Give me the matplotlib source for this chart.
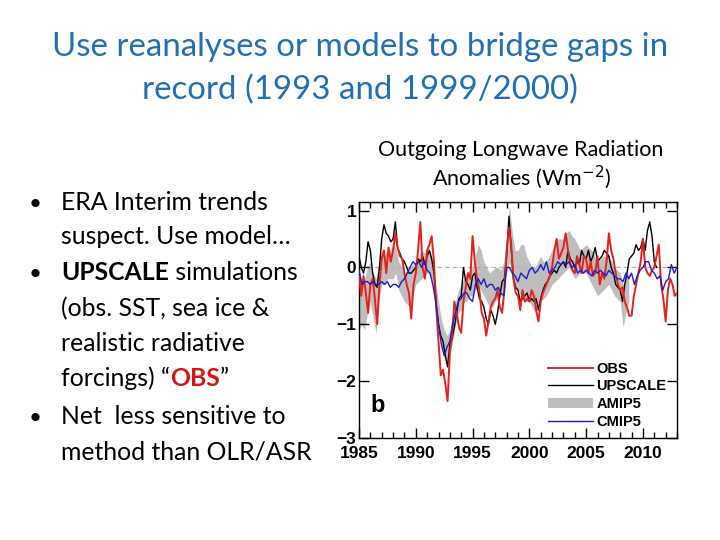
import numpy as np
import matplotlib
matplotlib.use('Agg')
import matplotlib.pyplot as plt
from matplotlib.ticker import MultipleLocator

# ---- data (OLR anomalies, W m-2) ----
obs_start, obs_step = 1985.0, 0.2
obs = [
    -0.15, -0.5, -0.15, -0.45, -0.8,    # 1985
    -0.3, -0.2, -0.55, -1.0, -0.3,      # 1986
    0.15, 0.3, -0.1, 0.35, 0.1,         # 1987
    0.3, 0.6, 0.35, 0.2, 0.15,          # 1988
    -0.1, -0.3, -0.45, -0.9, -0.3,      # 1989
    -0.1, 0.3, 0.8, 0.0, -0.2,          # 1990
    0.3, 0.4, 0.55, 0.1, -0.7,          # 1991
    -1.3, -1.9, -1.8, -2.05, -2.35,     # 1992
    -1.5, -1.2, -0.6, -0.8, -1.05,      # 1993
    -1.15, -0.6, -0.35, -0.1, -0.2,     # 1994
    0.55, 0.1, -0.2, -0.4, -0.8,        # 1995
    -0.9, -1.2, -0.95, -0.7, -0.6,      # 1996
    -0.55, -0.4, -0.7, -0.8, -0.4,      # 1997
    0.3, 0.7, 0.4, -0.2, -0.45,         # 1998
    -0.5, -0.75, -0.4, -0.6, -0.55,     # 1999
    -0.6, -0.4, -0.5, -0.75, -0.95,     # 2000
    -0.6, -0.45, -0.35, -0.25, -0.15,   # 2001
    0.0, 0.3, 0.5, 0.15, 0.25,          # 2002
    0.35, 0.6, 0.3, 0.05, -0.05,        # 2003
    -0.1, 0.2, 0.05, -0.1, 0.2,         # 2004
    0.15, -0.1, 0.1, -0.15, -0.1,       # 2005
    0.2, -0.3, -0.1, -0.2, 0.1,         # 2006
    0.6, 0.3, 0.15, -0.1, -0.3,         # 2007
    -0.4, -0.35, -0.6, -0.7, -0.85,     # 2008
    -0.85, -0.5, -0.3, -0.1, 0.1,       # 2009
    0.5, 0.0, -0.1, -0.15, -0.05,       # 2010
    0.0, 0.2, 0.4, -0.3, -0.55,         # 2011
    -0.95, -0.4, -0.2, -0.3, -0.5,      # 2012
    -0.45,                              # 2013
]

upscale_start, upscale_step = 1985.0, 0.2
upscale = [
    0.2, 0.0, -0.1, 0.1, 0.45,          # 1985
    0.3, -0.1, -0.3, -0.35, 0.0,        # 1986
    0.5, 0.75, 0.6, 0.55, 0.45,         # 1987
    0.5, 0.8, 0.35, 0.25, 0.15,         # 1988
    0.1, 0.0, -0.1, -0.1, -0.05,        # 1989
    0.0, 0.15, 0.1, 0.2, 0.05,          # 1990
    0.2, 0.3, 0.15, -0.1, -0.65,        # 1991
    -1.0, -1.2, -1.3, -1.55, -1.75,     # 1992
    -1.35, -1.25, -1.05, -0.8, -0.55,   # 1993
    -0.5, 0.0, -0.25, -0.3, -0.4,       # 1994
    -0.15, -0.1, -0.35, -0.55, -0.6,    # 1995
    -0.7, -0.9, -1.0, -0.75, -0.85,     # 1996
    -1.0, -0.8, -0.5, -0.25, -0.2,      # 1997
    0.2, 0.9, 0.35, -0.2, -0.35,        # 1998
    -0.4, -0.6, -0.55, -0.5, -0.45,     # 1999
    -0.6, -0.55, -0.6, -0.55, -0.75,    # 2000
    -0.55, -0.4, -0.3, -0.25, -0.15,    # 2001
    -0.1, -0.05, -0.1, 0.0, 0.05,       # 2002
    0.1, 0.0, 0.3, 0.15, 0.1,           # 2003
    0.0, 0.1, 0.05, 0.3, 0.2,           # 2004
    0.15, 0.3, 0.1, 0.2, 0.35,          # 2005
    0.1, 0.15, 0.2, 0.3, 0.25,          # 2006
    0.2, 0.0, -0.1, -0.3, -0.35,        # 2007
    -0.4, -0.6, -0.3, -0.1, 0.15,       # 2008
    0.2, 0.25, 0.4, 0.3, 0.35,          # 2009
    0.5, 0.3, 0.65, 0.8, 0.55,          # 2010
    0.1, 0.0,                           # 2011
]

cmip5_start, cmip5_step = 1985.0, 0.25
cmip5 = [
    -0.05, -0.3, -0.25, -0.25,   # 1985
    -0.3, -0.25, -0.3, -0.3,     # 1986
    -0.25, -0.3, -0.25, -0.35,   # 1987
    -0.3, -0.3, -0.35, -0.25,    # 1988
    -0.2, -0.1, 0.0, 0.1,        # 1989
    0.05, 0.1, 0.0, 0.1,         # 1990
    -0.05, -0.1, -0.3, -0.6,     # 1991
    -1.0, -1.35, -1.55, -1.4,    # 1992
    -1.3, -1.0, -0.8, -0.6,      # 1993
    -0.55, -0.45, -0.45, -0.55,  # 1994
    -0.6, -0.3, -0.2, -0.3,      # 1995
    -0.2, -0.35, -0.3, -0.3,     # 1996
    -0.4, -0.35, -0.45, -0.5,    # 1997
    0.0, 0.0, -0.1, -0.15,       # 1998
    -0.25, -0.1, -0.15, -0.2,    # 1999
    -0.05, 0.0, -0.1, -0.05,     # 2000
    0.05, -0.05, 0.1, -0.1,      # 2001
    -0.05, 0.0, 0.1, 0.05,       # 2002
    0.1, 0.05, 0.1, 0.0,         # 2003
    0.05, -0.1, -0.05, -0.1,     # 2004
    -0.05, -0.1, -0.15, -0.05,   # 2005
    -0.1, -0.05, -0.1, -0.15,    # 2006
    -0.05, -0.1, -0.15, -0.2,    # 2007
    -0.2, -0.25, -0.1, -0.2,     # 2008
    -0.1, -0.3, -0.15, -0.05,    # 2009
    0.0, 0.1, 0.1, -0.05,        # 2010
    -0.1, -0.2, -0.15, -0.4,     # 2011
    -0.25, -0.2, 0.05, -0.1,     # 2012
    0.0,                         # 2013
]

# AMIP5 ensemble range (low, high)
amip_start, amip_step = 1985.0, 0.25
amip_low = [
    -1.1, -1.0, -1.1, -0.8,      # 1985
    -0.6, -0.9, -1.15, -0.6,     # 1986
    -0.3, -0.3, -0.2, -0.2,      # 1987
    -0.2, -0.1, -0.4, -0.5,      # 1988
    -0.6, -0.65, -0.7, -0.5,     # 1989
    -0.3, -0.25, -0.2, -0.15,    # 1990
    -0.1, -0.1, -0.3, -0.7,      # 1991
    -1.1, -1.4, -1.6, -1.7,      # 1992
    -1.5, -1.3, -1.0, -0.8,      # 1993
    -0.75, -0.6, -0.6, -0.5,     # 1994
    -0.5, -0.4, -0.3, -0.4,      # 1995
    -0.5, -0.6, -0.7, -0.7,      # 1996
    -0.6, -0.55, -0.5, -0.3,     # 1997
    -0.1, 0.1, -0.2, -0.3,       # 1998
    -0.4, -0.5, -0.6, -0.6,      # 1999
    -0.6, -0.7, -0.8, -0.7,      # 2000
    -0.6, -0.55, -0.5, -0.4,     # 2001
    -0.3, -0.25, -0.2, -0.15,    # 2002
    -0.1, -0.05, 0.0, -0.1,      # 2003
    -0.2, -0.15, -0.1, -0.1,     # 2004
    -0.1, -0.2, -0.3, -0.4,      # 2005
    -0.5, -0.45, -0.4, -0.35,    # 2006
    -0.3, -0.4, -0.5, -0.55,     # 2007
    -0.6, -1.05, -0.8, -0.6,     # 2008
]
amip_high = [
    -0.1, -0.2, -0.2, 0.0,       # 1985
    0.1, -0.1, -0.2, 0.1,        # 1986
    0.3, 0.2, 0.3, 0.3,          # 1987
    0.4, 0.35, 0.1, 0.0,         # 1988
    -0.1, -0.05, 0.0, 0.05,      # 1989
    0.1, 0.2, 0.3, 0.25,         # 1990
    0.3, 0.25, 0.1, -0.3,        # 1991
    -0.6, -0.9, -1.1, -1.2,      # 1992
    -1.1, -0.8, -0.6, -0.4,      # 1993
    -0.3, -0.2, -0.1, -0.05,     # 1994
    0.0, 0.2, 0.4, 0.3,          # 1995
    0.1, 0.0, -0.1, -0.05,       # 1996
    0.0, 0.0, -0.05, 0.1,        # 1997
    0.5, 1.1, 0.6, 0.3,          # 1998
    0.3, 0.4, 0.4, 0.2,          # 1999
    0.1, 0.0, 0.0, 0.1,          # 2000
    0.2, 0.1, 0.1, 0.2,          # 2001
    0.3, 0.4, 0.5, 0.5,          # 2002
    0.5, 0.6, 0.65, 0.55,        # 2003
    0.5, 0.4, 0.3, 0.35,         # 2004
    0.4, 0.35, 0.3, 0.2,         # 2005
    0.1, 0.15, 0.2, 0.2,         # 2006
    0.2, 0.1, 0.0, -0.05,        # 2007
    -0.1, -0.3, -0.2, -0.1,      # 2008
]

title_lines = ["Use reanalyses or models to bridge gaps in",
               "record (1993 and 1999/2000)"]
chart_title = ["Outgoing Longwave Radiation", "Anomalies (Wm$^{-2}$)"]

# each bullet line is a list of (text, weight, colour) runs
bullet_lines = [
    (True,  [("ERA Interim trends", "normal", "black")]),
    (False, [("suspect. Use model\u2026", "normal", "black")]),
    (True,  [("UPSCALE", "bold", "black"), (" simulations", "normal", "black")]),
    (False, [("(obs. SST, sea ice &", "normal", "black")]),
    (False, [("realistic radiative", "normal", "black")]),
    (False, [("forcings) \u201c", "normal", "black"), ("OBS", "bold", "#D01818"),
             ("\u201d", "normal", "black")]),
    (True,  [("Net  less sensitive to", "normal", "black")]),
    (False, [("method than OLR/ASR", "normal", "black")]),
]
bullet_baselines = [210, 244, 280, 316, 351, 386, 424, 460]


def series_time(start, step, values):
    return start + step * np.arange(len(values))


W, H = 720, 540
fig = plt.figure(figsize=(W / 100, H / 100), dpi=100)
renderer = fig.canvas.get_renderer()
SLIDE_FONT = ['Lato', 'DejaVu Sans']


def fx(px):
    return px / W


def fy(py):
    return 1 - py / H


# slide title
title_color = '#2270B4'
fig.text(fx(360), fy(47), title_lines[0], ha='center', va='center',
         fontsize=23.8, color=title_color, family=SLIDE_FONT)
fig.text(fx(360), fy(90), title_lines[1], ha='center', va='center',
         fontsize=23.8, color=title_color, family=SLIDE_FONT)

# bullets
for (has_bullet, runs), base in zip(bullet_lines, bullet_baselines):
    if has_bullet:
        fig.text(fx(29), fy(base), "\u2022", ha='left', va='baseline',
                 fontsize=16, family=SLIDE_FONT)
    x = 61
    for s, weight, color in runs:
        t = fig.text(fx(x), fy(base), s, ha='left', va='baseline', fontsize=17.8,
                     fontweight=weight, color=color, family=SLIDE_FONT)
        x = t.get_window_extent(renderer).x1

# chart heading
fig.text(fx(521), fy(150), chart_title[0], ha='center', va='center',
         fontsize=15.5, family=SLIDE_FONT)
fig.text(fx(521), fy(177), chart_title[1], ha='center', va='center',
         fontsize=15.5, family=SLIDE_FONT)

# the OLR chart
ax = fig.add_axes([359 / W, 1 - 438 / H, 318 / W, 236 / H])
ax.set_xlim(1985, 2013)
ax.set_ylim(-3, 1.15)

t_amip = series_time(amip_start, amip_step, amip_low)
band = ax.fill_between(t_amip, amip_low, amip_high, color='#BEBEBE', lw=0, zorder=1)
ax.axhline(0, color='#B0B0B0', lw=0.8, ls=(0, (4, 3)), zorder=1.5)
l_up, = ax.plot(series_time(upscale_start, upscale_step, upscale), upscale,
                color='black', lw=1.0, zorder=2)
l_obs, = ax.plot(series_time(obs_start, obs_step, obs), obs,
                 color='#E8201A', lw=1.4, zorder=3)
l_cm, = ax.plot(series_time(cmip5_start, cmip5_step, cmip5), cmip5,
                color='#1C1CC8', lw=1.0, zorder=4)

ax.xaxis.set_major_locator(MultipleLocator(5))
ax.xaxis.set_minor_locator(MultipleLocator(1))
ax.yaxis.set_major_locator(MultipleLocator(1))
ax.tick_params(which='both', direction='in', top=True, right=True, width=1.0)
ax.tick_params(which='major', length=7, labelsize=12.5, pad=2)
ax.tick_params(axis='x', which='major', pad=5.5)
ax.tick_params(which='minor', length=4)
for lab in ax.get_xticklabels() + ax.get_yticklabels():
    lab.set_fontweight('bold')
    lab.set_family('Liberation Sans')
for sp in ax.spines.values():
    sp.set_linewidth(1.0)

ax.text(0.035, 0.11, 'b', transform=ax.transAxes, fontsize=17,
        fontweight='bold', family='Liberation Sans', va='baseline')

leg = ax.legend([l_obs, l_up, band, l_cm], ['OBS', 'UPSCALE', 'AMIP5', 'CMIP5'],
                loc='lower right', bbox_to_anchor=(0.985, 0.015), frameon=False,
                handlelength=3.1, handletextpad=0.2, labelspacing=0.25,
                borderaxespad=0.2, borderpad=0.2,
                prop={'family': 'Liberation Sans', 'weight': 'bold', 'size': 10.5})

fig.savefig('out.png', dpi=100)
